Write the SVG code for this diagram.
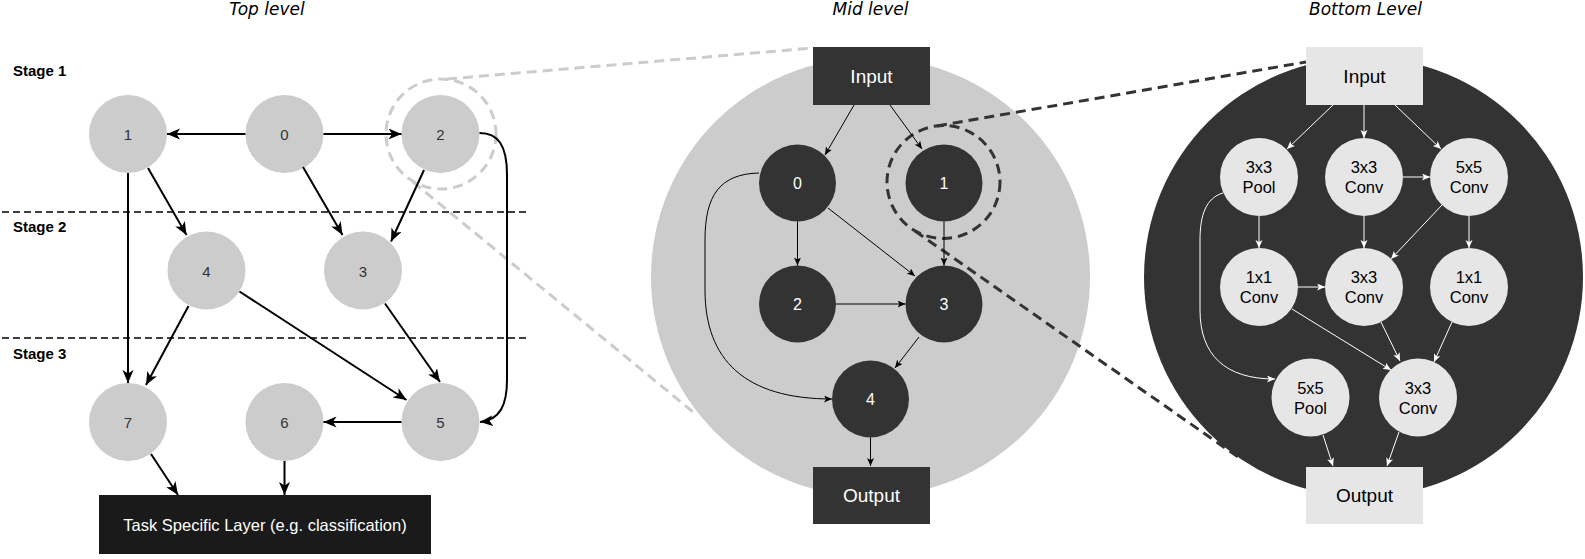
<svg xmlns="http://www.w3.org/2000/svg" width="1585" height="559" viewBox="0 0 1585 559">
<style>
.title{font-family:"DejaVu Sans",Verdana,sans-serif;font-style:italic;font-size:17px;fill:#000;text-anchor:middle}
.stage{font-family:"Liberation Sans",Arial,sans-serif;font-weight:bold;font-size:15px;fill:#000}
.tn{fill:#cccccc}
.tt{font-family:"Liberation Sans",Arial,sans-serif;font-size:15px;fill:#333333;text-anchor:middle}
.mn{fill:#333333}
.mt{font-family:"Liberation Sans",Arial,sans-serif;font-size:16px;fill:#ffffff;text-anchor:middle}
.box{font-family:"Liberation Sans",Arial,sans-serif;font-size:19px;text-anchor:middle}
.bn{fill:#e6e6e6}
.bt{font-family:"Liberation Sans",Arial,sans-serif;font-size:16.5px;fill:#000000;text-anchor:middle}
.divider{stroke:#000;stroke-width:1.5;stroke-dasharray:7 4;fill:none}
.zoomL{stroke:#cccccc;stroke-width:3;stroke-dasharray:10 6;fill:none}
.zoomD{stroke:#333333;stroke-width:3;stroke-dasharray:10 6;fill:none}
.eT{stroke:#000;stroke-width:2;fill:none;marker-end:url(#aT)}
.eM{stroke:#000;stroke-width:1;fill:none;marker-end:url(#aM)}
.eB{stroke:#fff;stroke-width:1;fill:none;marker-end:url(#aB)}
</style>
<defs>
<marker id="aT" markerUnits="userSpaceOnUse" markerWidth="14" markerHeight="12" refX="13" refY="5.5" orient="auto"><path d="M0,0 L13,5.5 L0,11 L3.5,5.5 Z" fill="#000"/></marker>
<marker id="aM" markerUnits="userSpaceOnUse" markerWidth="10" markerHeight="9" refX="8" refY="3.5" orient="auto"><path d="M0,0 L8,3.5 L0,7 L2,3.5 Z" fill="#000"/></marker>
<marker id="aB" markerUnits="userSpaceOnUse" markerWidth="10" markerHeight="9" refX="8" refY="3.5" orient="auto"><path d="M0,0 L8,3.5 L0,7 L2,3.5 Z" fill="#fff"/></marker>
</defs>

<!-- titles -->
<g id="titles">
<text class="title" x="267" y="15">Top level</text>
<text class="title" x="870.5" y="15">Mid level</text>
<text class="title" x="1365.5" y="15">Bottom Level</text>
</g>

<!-- stage labels and dividers -->
<g id="stages">
<text class="stage" x="13" y="76">Stage 1</text>
<text class="stage" x="13" y="232">Stage 2</text>
<text class="stage" x="13" y="359">Stage 3</text>
<line class="divider" x1="2" y1="212" x2="527" y2="212"/>
<line class="divider" x1="2" y1="338" x2="527" y2="338"/>
</g>

<!-- level backgrounds -->
<circle id="mid-level-cell" cx="870.5" cy="277" r="219.5" fill="#cccccc"/>
<circle id="bottom-level-cell" cx="1363.5" cy="277" r="219.5" fill="#333333"/>

<!-- zoom indicators -->
<g id="zoom-indicators">
<circle class="zoomL" cx="441" cy="134" r="55"/>
<line class="zoomL" x1="447" y1="79" x2="813" y2="48"/>
<line class="zoomL" x1="413" y1="182" x2="693" y2="412"/>
<circle class="zoomD" cx="943.5" cy="182" r="56.5"/>
<line class="zoomD" x1="937" y1="126" x2="1306" y2="62"/>
<line class="zoomD" x1="915" y1="231" x2="1238" y2="457"/>
</g>

<!-- top level nodes -->
<g id="top-1"><circle class="tn" cx="128" cy="134" r="39"/><text class="tt" x="128" y="140">1</text></g>
<g id="top-0"><circle class="tn" cx="284.5" cy="134" r="39"/><text class="tt" x="284.5" y="140">0</text></g>
<g id="top-2"><circle class="tn" cx="440.5" cy="134" r="39"/><text class="tt" x="440.5" y="140">2</text></g>
<g id="top-4"><circle class="tn" cx="206.5" cy="270.5" r="39"/><text class="tt" x="206.5" y="276.5">4</text></g>
<g id="top-3"><circle class="tn" cx="363" cy="270.5" r="39"/><text class="tt" x="363" y="276.5">3</text></g>
<g id="top-7"><circle class="tn" cx="128" cy="422" r="39"/><text class="tt" x="128" y="428">7</text></g>
<g id="top-6"><circle class="tn" cx="284.5" cy="422" r="39"/><text class="tt" x="284.5" y="428">6</text></g>
<g id="top-5"><circle class="tn" cx="440.5" cy="422" r="39"/><text class="tt" x="440.5" y="428">5</text></g>
<g id="task-layer"><rect x="99" y="495" width="332" height="59" fill="#1a1a1a"/><text x="265" y="531" font-family="Liberation Sans, Arial, sans-serif" font-size="16.5" fill="#ffffff" text-anchor="middle">Task Specific Layer (e.g. classification)</text></g>

<!-- mid level nodes -->
<g id="mid-input"><rect x="813" y="47" width="117" height="58" fill="#333333"/><text class="box" x="871.5" y="83" fill="#ffffff">Input</text></g>
<g id="mid-output"><rect x="813" y="467" width="117" height="57" fill="#333333"/><text class="box" x="871.5" y="502" fill="#ffffff">Output</text></g>
<g id="mid-0"><circle class="mn" cx="797.5" cy="183" r="38.5"/><text class="mt" x="797.5" y="189">0</text></g>
<g id="mid-1"><circle class="mn" cx="944" cy="183" r="38.5"/><text class="mt" x="944" y="189">1</text></g>
<g id="mid-2"><circle class="mn" cx="797.5" cy="304" r="38.5"/><text class="mt" x="797.5" y="310">2</text></g>
<g id="mid-3"><circle class="mn" cx="944" cy="304" r="38.5"/><text class="mt" x="944" y="310">3</text></g>
<g id="mid-4"><circle class="mn" cx="870.5" cy="399" r="38.5"/><text class="mt" x="870.5" y="405">4</text></g>

<!-- bottom level nodes -->
<g id="bot-input"><rect x="1306" y="47" width="117" height="58" fill="#e6e6e6"/><text class="box" x="1364.5" y="83" fill="#000000">Input</text></g>
<g id="bot-output"><rect x="1306" y="467" width="117" height="57" fill="#e6e6e6"/><text class="box" x="1364.5" y="502" fill="#000000">Output</text></g>
<g id="bot-pool3"><circle class="bn" cx="1259" cy="177" r="39"/><text class="bt" x="1259" y="173">3x3</text><text class="bt" x="1259" y="193">Pool</text></g>
<g id="bot-conv3a"><circle class="bn" cx="1364" cy="177" r="39"/><text class="bt" x="1364" y="173">3x3</text><text class="bt" x="1364" y="193">Conv</text></g>
<g id="bot-conv5"><circle class="bn" cx="1469" cy="177" r="39"/><text class="bt" x="1469" y="173">5x5</text><text class="bt" x="1469" y="193">Conv</text></g>
<g id="bot-conv1a"><circle class="bn" cx="1259" cy="287" r="39"/><text class="bt" x="1259" y="283">1x1</text><text class="bt" x="1259" y="303">Conv</text></g>
<g id="bot-conv3b"><circle class="bn" cx="1364" cy="287" r="39"/><text class="bt" x="1364" y="283">3x3</text><text class="bt" x="1364" y="303">Conv</text></g>
<g id="bot-conv1b"><circle class="bn" cx="1469" cy="287" r="39"/><text class="bt" x="1469" y="283">1x1</text><text class="bt" x="1469" y="303">Conv</text></g>
<g id="bot-pool5"><circle class="bn" cx="1310.5" cy="397.5" r="39"/><text class="bt" x="1310.5" y="393.5">5x5</text><text class="bt" x="1310.5" y="413.5">Pool</text></g>
<g id="bot-conv3c"><circle class="bn" cx="1418" cy="397.5" r="39"/><text class="bt" x="1418" y="393.5">3x3</text><text class="bt" x="1418" y="413.5">Conv</text></g>

<!-- connectors -->
<g id="connectors">
<!-- top level -->
<path class="eT" d="M245.5,134 L167,134"/>
<path class="eT" d="M323.5,134 L401.5,134"/>
<path class="eT" d="M148,168 L186.5,235"/>
<path class="eT" d="M303,167 L342.5,235"/>
<path class="eT" d="M424,170 L391,241.5"/>
<path class="eT" d="M128,173 L128,383"/>
<path class="eT" d="M188.5,306 L146,385"/>
<path class="eT" d="M239.5,291.5 L406.5,400"/>
<path class="eT" d="M385,303.5 L440,382"/>
<path class="eT" d="M401.5,422 L323.5,422"/>
<path class="eT" d="M479.5,133 C498,133 507,145 507,175 L507,380 C507,405 500,420 480,422"/>
<path class="eT" d="M151,454 L178,495"/>
<path class="eT" d="M284.5,461 L284.5,495"/>
<!-- mid level -->
<path class="eM" d="M854,105 L825,155"/>
<path class="eM" d="M890,105 L922,149"/>
<path class="eM" d="M797.5,221.5 L797.5,265.5"/>
<path class="eM" d="M828,208 L915,276"/>
<path class="eM" d="M944,221.5 L944,265.5"/>
<path class="eM" d="M836,304 L905.5,304"/>
<path class="eM" d="M919,337 L895,368"/>
<path class="eM" d="M759,173 C720,174 705,195 705,240 L705,290 C705,360 745,399 832,399"/>
<path class="eM" d="M870.5,437.5 L870.5,466"/>
<!-- bottom level -->
<path class="eB" d="M1333,105 L1287,149"/>
<path class="eB" d="M1364,105 L1364,138"/>
<path class="eB" d="M1395,105 L1441,149"/>
<path class="eB" d="M1403,177 L1430,177"/>
<path class="eB" d="M1259,216 L1259,248"/>
<path class="eB" d="M1364,216 L1364,248"/>
<path class="eB" d="M1442,205 L1391,259"/>
<path class="eB" d="M1469,216 L1469,248"/>
<path class="eB" d="M1298,287 L1325,287"/>
<path class="eB" d="M1292,309 L1391,370"/>
<path class="eB" d="M1381,322 L1400,361"/>
<path class="eB" d="M1452,322 L1434,362"/>
<path class="eB" d="M1223,193 C1206,198 1200,215 1200,240 L1200,310 C1200,355 1225,379 1275,379"/>
<path class="eB" d="M1323,435 L1333,466"/>
<path class="eB" d="M1399,432 L1387,466"/>
</g>
</svg>
